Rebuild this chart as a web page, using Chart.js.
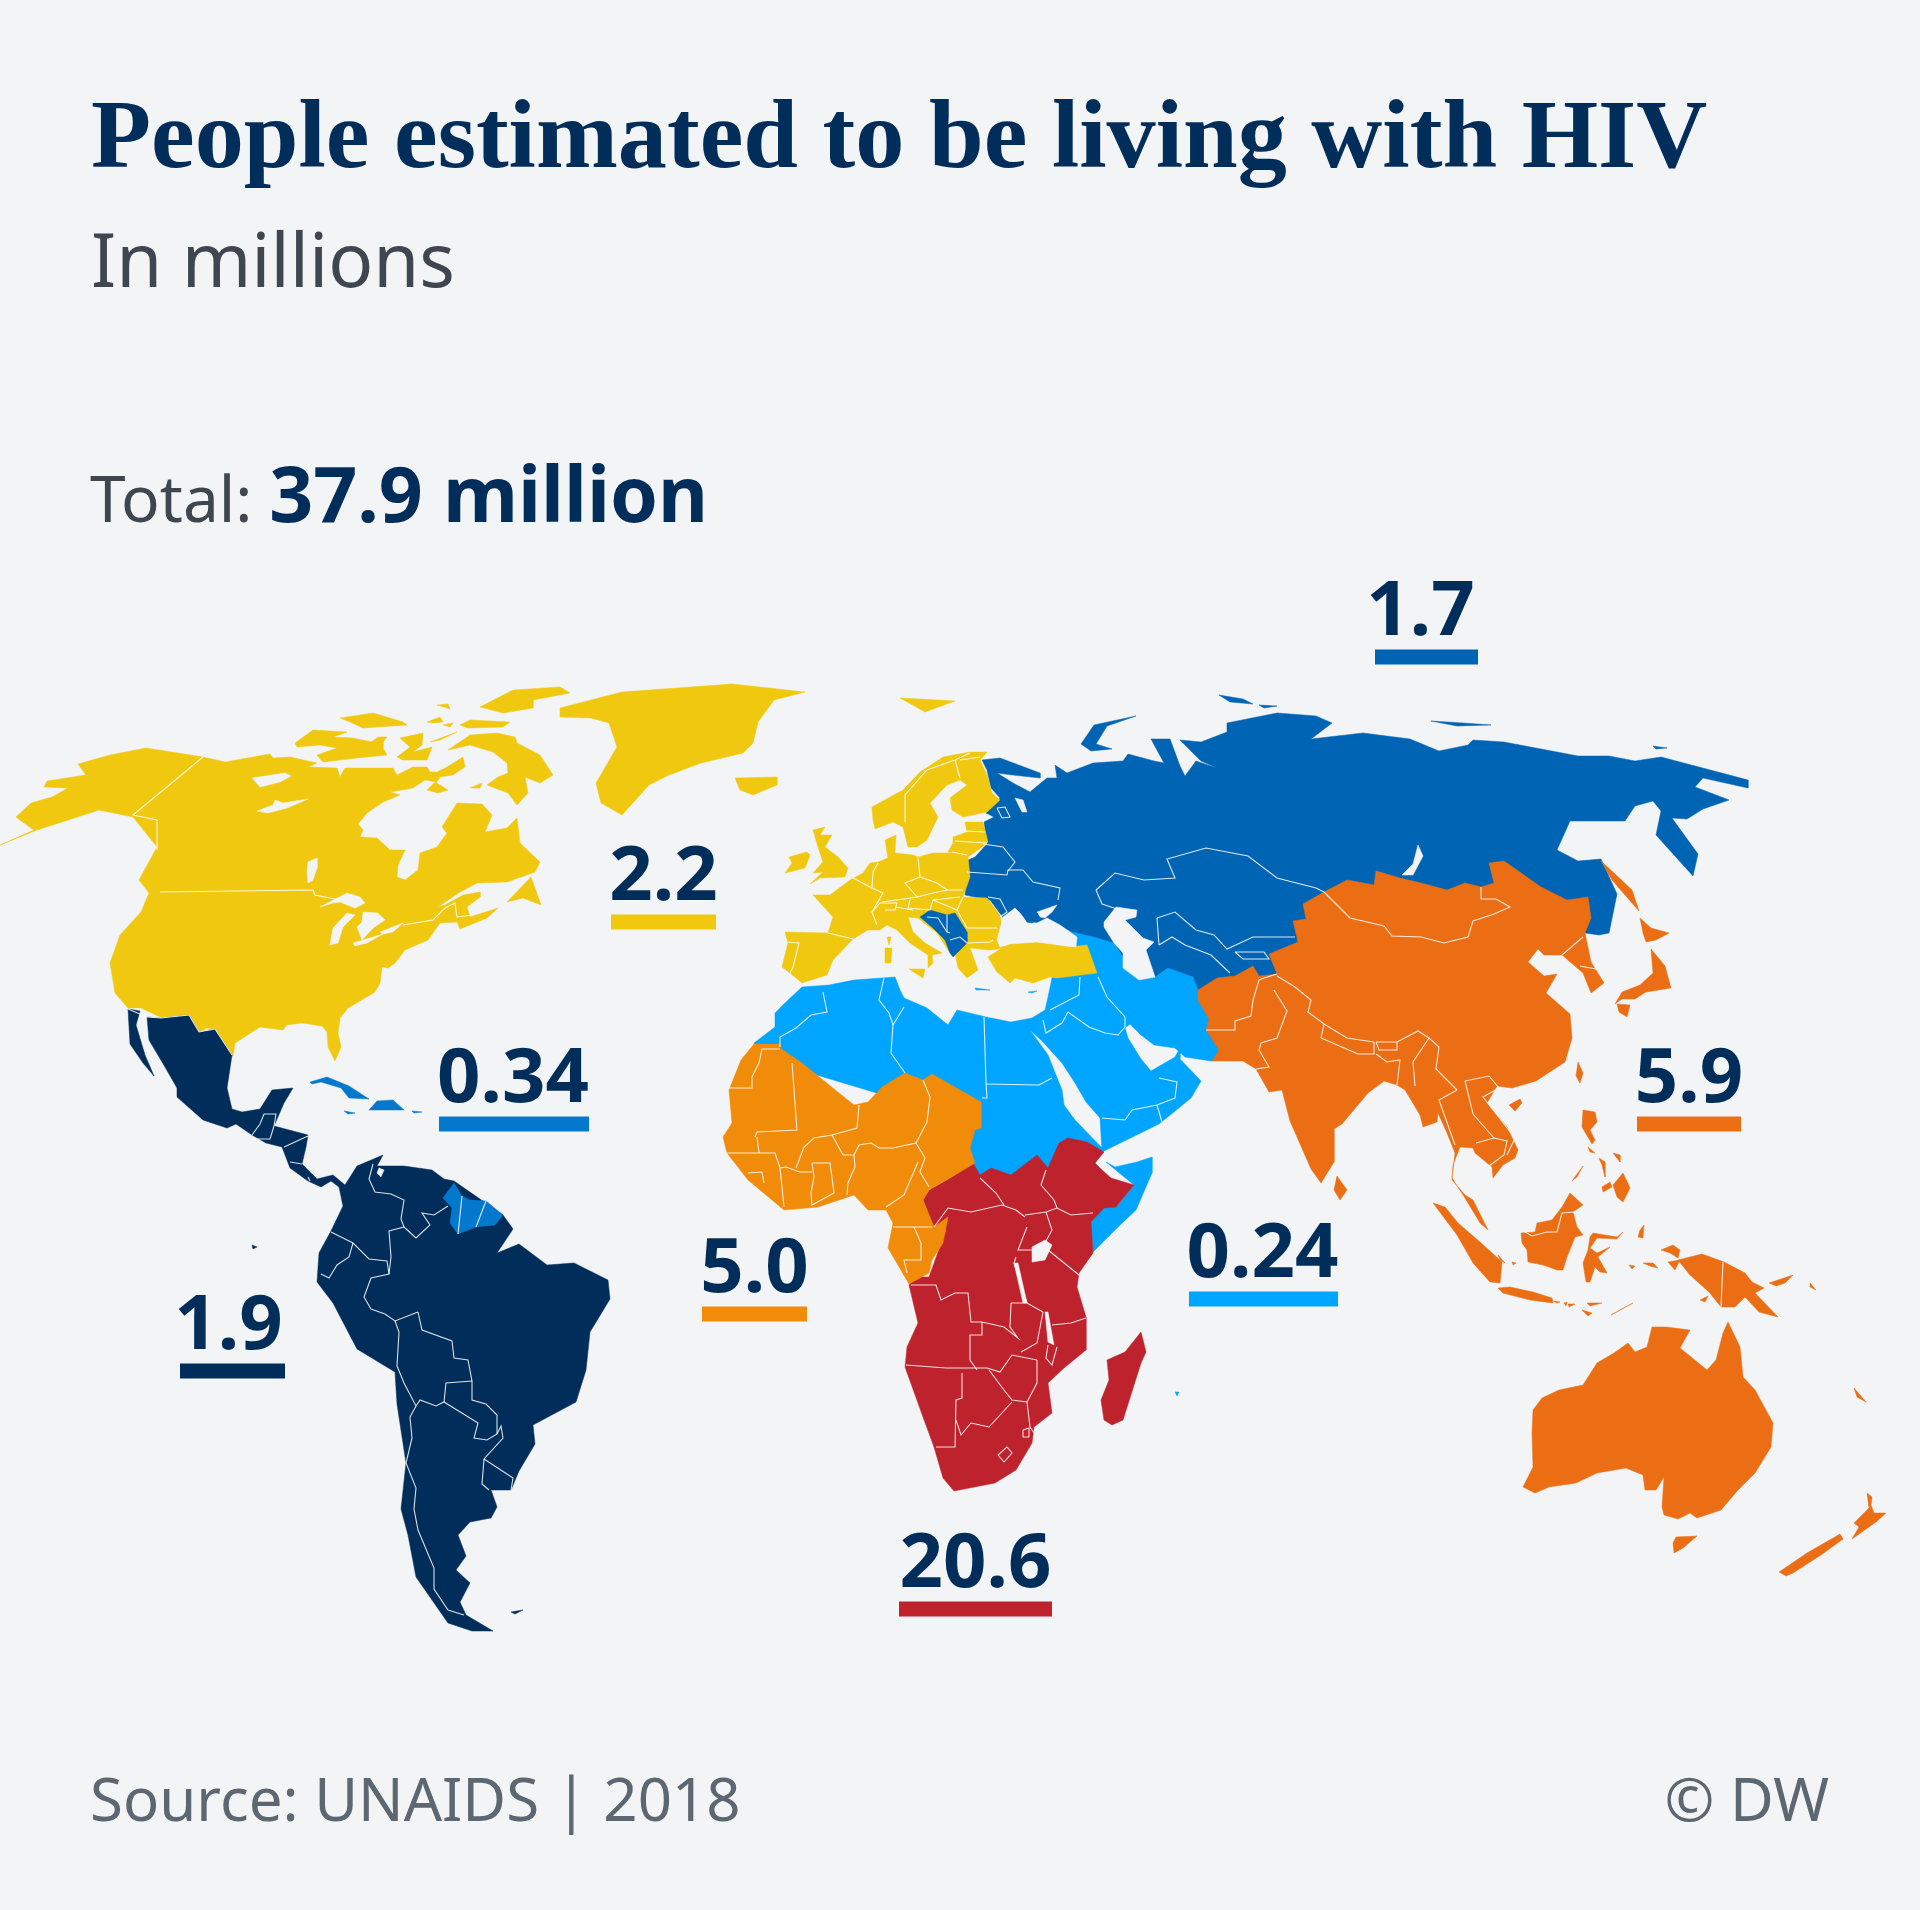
<!DOCTYPE html>
<html>
<head>
<meta charset="utf-8">
<title>People estimated to be living with HIV</title>
<script src="https://cdn.jsdelivr.net/npm/chart.js@4"></script>
<style>
    html, body { margin: 0; padding: 0; background: #f2f4f6; }
    #page { position: relative; width: 1920px; height: 1910px; overflow: hidden; }
    #map { position: absolute; left: 0; top: 0; }
    .txt { position: absolute; white-space: nowrap; font-family: "Noto Sans", sans-serif; line-height: 1; }
    #title { left: 91px; top: 85px; font: bold 98.3px/1 "Liberation Serif", serif; color: #002d5a; }
    #sub { left: 91px; top: 221px; font-size: 74.5px; color: #3f4650; }
    #total { left: 90px; top: 454px; font-size: 64px; color: #3f4650; }
    #total b { font-size: 77px; color: #002d5a; }
    #source { left: 90px; top: 1768px; font-size: 60px; color: #5c6771; }
    #credit { right: 91px; top: 1768px; font-size: 60px; color: #5c6771; }
</style>
</head>
<body>
<div id="page">
    <canvas id="map" width="1920" height="1910"></canvas>
    <div class="txt" id="title">People estimated to be living with HIV</div>
    <div class="txt" id="sub">In millions</div>
    <div class="txt" id="total">Total: <b>37.9 million</b></div>
    <div class="txt" id="source">Source: UNAIDS | 2018</div>
    <div class="txt" id="credit">© DW</div>
</div>
<script>
// Region totals, in millions
const valueLabels = ['1.7', '2.2', '0.34', '5.9', '1.9', '5.0', '0.24', '20.6'];
const valueColors = ['#0064b4', '#f0c80f', '#0478cc', '#eb6e14', '#002d5a', '#f08c0a', '#00a5ff', '#be232d'];
// Where each value sits on the map, [left, right, underline y, text shift]
const valueAnchors = [[1375, 1478, 657, -6], [611, 716, 922, 0], [439, 589, 1124, -1], [1637, 1741, 1124, 0],
    [180, 285, 1371, -4], [702, 807, 1314, 0], [1189, 1338, 1299, -1], [899, 1052, 1609, 0]];

// Outlines, map units, x,y pairs
const northAmerica = [0,845,16,838,34,830,24,823,16,817,31,803,52,797,68,788,44,787,47,781,86,775,78,764,110,755,146,748,178,753,203,757,225,762,270,754,273,758,290,757,317,763,308,767,337,768,340,777,345,768,393,768,397,775,413,767,427,767,430,772,437,772,447,767,463,757,465,767,453,775,440,777,437,782,425,780,413,788,390,792,400,795,383,802,367,813,358,824,363,830,360,837,377,838,390,850,405,850,398,865,397,877,405,880,418,870,420,853,437,847,447,833,442,827,457,803,482,804,492,815,485,832,507,828,517,818,520,843,540,862,535,872,507,882,477,883,460,892,438,907,445,905,463,895,480,892,480,897,467,907,470,917,498,908,487,918,460,929,457,922,440,923,428,940,405,950,395,963,388,968,382,967,380,983,375,992,348,1008,340,1018,338,1033,341,1047,335,1061,328,1047,327,1032,322,1026,302,1023,287,1025,283,1030,260,1027,235,1043,233,1056,222,1048,217,1030,207,1028,199,1032,188,1015,178,1018,160,1017,141,1008,128,1008,115,993,110,963,120,935,141,912,149,893,139,880,157,847,141,827,133,817,99,810,68,820,37,830];
const victoriaIsland = [295,743,313,730,347,732,333,737,352,738,373,742,383,737,383,748,387,755,357,758,323,762,317,755,337,748,320,745,297,747];
const baffinIsland = [448,750,470,735,497,733,515,737,517,743,540,755,553,775,540,783,525,777,528,793,517,805,508,793,487,785,498,777,508,773,507,763,493,752,470,745];
const somerset = [400,738,423,733,422,745,413,752,432,747,427,760,403,760,397,757,410,747];
const southampton = [427,790,435,782,448,790,438,793];
const coats = [470,788,482,783,480,788];
const ellesmere = [513,690,560,687,570,693,533,700,533,708,503,713,480,707];
const devon = [460,725,470,720,510,722,503,727,468,728];
const melville = [340,718,373,713,403,722,407,725,363,728,350,722];
const bathurst = [427,722,440,717,443,722,433,723];
const axelHeiberg = [437,705,448,704,450,709];
const cornwallis = [443,725,453,723,450,727];
const kingWilliam = [378,737,387,737,378,748,370,743];
const bylot = [430,742,457,732,440,740];
const greenland = [560,708,622,692,732,684,805,692,774,700,758,722,753,743,743,753,701,763,669,775,649,785,622,815,601,803,596,783,617,747,609,723,591,718,560,717];
const newfoundland = [507,902,531,877,541,905,523,898];
const iceland = [735,778,777,777,777,785,753,795,740,790];
const svalbard = [900,698,955,701,925,712];
const scandinavia = [872,807,903,790,920,772,943,757,970,752,987,752,980,760,987,775,992,793,1000,800,987,812,963,817,952,810,950,798,967,785,960,780,947,785,930,803,938,817,927,840,917,847,908,847,903,827,893,822,875,829,873,820];
const europe = [782,967,788,943,785,932,828,933,833,917,813,895,830,895,850,880,863,873,870,863,878,862,888,858,885,840,896,835,895,853,913,855,918,857,933,853,957,853,948,852,953,843,953,837,967,832,965,822,983,822,988,842,982,847,968,857,970,877,963,897,987,898,1000,915,1002,927,997,940,1007,948,990,950,970,948,978,970,967,978,958,968,955,953,950,953,937,933,918,918,908,917,913,932,925,943,942,953,932,955,933,963,928,968,928,955,910,943,897,930,887,925,880,930,868,930,853,939,833,960,827,975,802,983,790,973];
const britain = [813,830,825,827,820,835,832,835,825,847,838,857,848,868,845,877,820,878,810,884,823,872,813,873,823,862,818,847];
const ireland = [789,857,807,852,810,855,805,868,785,873,792,863];
const sicily = [909,969,925,969,923,978,915,973];
const sardinia = [885,948,892,948,891,963,885,963];
const corsica = [887,937,891,937,889,945];
const crete = [975,988,990,990,976,990];
const cyprus = [1028,992,1037,991,1032,993];
const turkey = [988,957,1010,943,1037,942,1070,947,1087,945,1097,973,1057,978,1050,977,1033,983,1015,978,1010,983,997,972];
const balkans = [920,917,930,910,947,915,955,913,967,932,967,943,953,957,950,953,945,940,933,928];
const russia = [982,760,1000,758,1040,773,1040,778,1013,775,997,773,1013,783,1030,792,1047,778,1057,778,1055,765,1067,773,1093,763,1123,761,1128,754,1154,761,1164,763,1151,739,1170,739,1180,766,1185,776,1196,761,1217,768,1201,761,1180,740,1201,742,1227,732,1227,723,1277,713,1316,716,1332,723,1311,739,1363,733,1410,739,1439,751,1468,745,1473,740,1504,742,1541,749,1578,756,1609,756,1635,761,1661,757,1714,771,1748,780,1748,788,1703,778,1695,787,1729,800,1703,809,1687,819,1672,818,1682,832,1698,854,1693,876,1656,835,1661,811,1653,801,1635,806,1625,821,1570,821,1557,850,1578,861,1601,859,1617,894,1609,933,1599,935,1585,933,1585,921,1500,900,1350,900,1310,960,1270,1000,1200,1000,1150,1000,1100,985,1100,960,1090,945,1068,930,1040,925,1005,920,990,900,965,895,968,860,975,857,987,844,984,822,994,817,986,813,1000,798,991,788,987,770];
const novayaZemlya = [1081,744,1094,725,1136,716,1107,726,1096,744,1112,749,1091,751];
const severnaya = [1219,695,1243,699,1253,704,1230,702];
const severnayaEast = [1259,705,1277,706,1264,708];
const newSiberian = [1431,721,1463,723,1491,725,1457,726];
const wrangel = [1653,746,1667,748,1656,749];
const crimea = [1023,915,1037,913,1040,918,1032,923,1027,922];
const menaRegion = [754,1043,775,1027,775,1013,786,1002,802,987,829,985,854,980,882,978,895,977,900,990,904,998,927,1008,948,1025,957,1010,986,1017,1011,1022,1032,1018,1045,1010,1048,997,1052,978,1060,965,1075,945,1068,931,1093,937,1114,943,1125,960,1140,975,1155,977,1168,968,1193,977,1198,990,1210,1000,1225,1040,1220,1060,1211,1061,1185,1057,1175,1048,1154,1045,1141,1035,1130,1024,1125,1028,1128,1038,1141,1059,1151,1071,1175,1057,1180,1048,1180,1059,1201,1081,1191,1098,1159,1124,1102,1152,1100,1118,1086,1102,1075,1083,1062,1063,1043,1042,1030,1030,1048,1055,1062,1090,1064,1105,1075,1120,1104,1150,1090,1170,1000,1190,975,1180,950,1120,900,1100,800,1070,780,1060,760,1060];
const somalia = [1106,1162,1115,1167,1137,1162,1152,1157,1152,1173,1136,1210,1118,1227,1093,1252,1090,1223,1104,1207,1118,1205,1134,1185];
const mauritius = [1175,1392,1179,1392,1177,1396];
const subSahara = [923,1200,929,1190,950,1178,973,1163,980,1175,991,1168,1011,1175,1037,1155,1048,1168,1059,1143,1068,1138,1087,1142,1104,1152,1095,1163,1102,1170,1111,1178,1134,1185,1116,1207,1104,1208,1091,1222,1093,1253,1079,1273,1077,1287,1080,1297,1086,1317,1086,1350,1064,1368,1048,1383,1052,1413,1034,1427,1032,1443,1016,1470,995,1483,954,1491,943,1478,934,1447,923,1417,905,1367,907,1347,918,1323,909,1285,914,1277,929,1277,946,1230,934,1228];
const madagascar = [1141,1332,1146,1352,1141,1363,1123,1420,1112,1425,1104,1420,1101,1400,1109,1380,1107,1360,1125,1352];
const westAfrica = [754,1044,780,1044,780,1048,802,1063,839,1093,854,1105,868,1102,882,1087,905,1073,923,1080,932,1074,981,1102,981,1128,975,1130,970,1148,975,1163,950,1178,929,1190,923,1200,934,1227,948,1217,943,1243,932,1260,929,1273,909,1284,888,1248,893,1223,886,1210,868,1210,854,1195,818,1207,784,1210,748,1180,727,1153,723,1137,732,1123,729,1090,741,1060];
const mexicoSouthAmerica = [147,1017,161,1018,189,1015,199,1032,215,1029,232,1055,227,1088,232,1109,242,1112,260,1109,272,1090,293,1088,284,1103,274,1126,308,1135,306,1147,302,1164,317,1179,333,1175,345,1185,357,1166,383,1155,377,1166,404,1166,432,1170,444,1179,454,1181,503,1215,513,1229,497,1253,519,1244,547,1265,574,1263,608,1280,610,1299,590,1332,586,1370,576,1402,533,1425,535,1444,519,1471,511,1490,491,1490,497,1507,491,1518,470,1522,458,1535,466,1556,456,1570,470,1583,460,1602,466,1615,493,1631,472,1631,448,1623,416,1577,408,1535,401,1509,406,1463,397,1404,395,1372,357,1349,333,1303,317,1282,319,1253,331,1231,343,1206,339,1187,331,1181,321,1187,308,1181,290,1168,282,1147,266,1143,252,1135,236,1124,227,1128,203,1120,177,1097,177,1088,165,1067,149,1040];
const baja = [128,1009,140,1011,136,1025,145,1055,154,1076,143,1063,130,1044];
const falklands = [511,1612,523,1610,515,1614];
const galapagos = [252,1245,257,1247,253,1249];
const guianas = [443,1198,454,1183,462,1196,470,1200,486,1201,503,1215,495,1225,476,1227,458,1234,450,1223,452,1208];
const cuba = [310,1082,327,1077,349,1086,369,1099,349,1098,341,1088,321,1082,312,1084];
const hispaniola = [377,1101,393,1100,404,1110,387,1110,369,1110];
const jamaica = [344,1111,355,1113,348,1114];
const puertoRico = [412,1111,422,1112,414,1113];
const asia = [1198,990,1217,978,1235,976,1253,966,1259,976,1277,974,1269,954,1298,942,1293,921,1306,919,1303,904,1324,892,1347,880,1374,885,1376,871,1400,878,1421,883,1447,890,1465,883,1481,887,1494,883,1489,863,1504,861,1541,887,1567,900,1588,897,1591,918,1585,933,1591,962,1604,983,1591,993,1583,973,1562,955,1544,955,1538,949,1528,962,1544,976,1557,974,1546,993,1570,1014,1572,1038,1565,1062,1536,1081,1512,1088,1497,1086,1487,1103,1507,1127,1518,1150,1515,1158,1503,1165,1493,1178,1492,1167,1475,1153,1473,1148,1460,1147,1453,1165,1452,1180,1465,1195,1473,1200,1488,1230,1480,1223,1465,1198,1452,1178,1455,1153,1447,1133,1438,1113,1437,1122,1423,1127,1420,1115,1405,1090,1397,1085,1384,1081,1368,1093,1342,1124,1334,1129,1334,1162,1321,1183,1311,1169,1290,1121,1282,1090,1269,1092,1256,1069,1243,1061,1212,1061,1219,1050,1206,1030,1209,1019,1198,1000];
const sakhalin = [1601,861,1614,873,1632,890,1639,911,1625,895,1612,880];
const honshu = [1651,949,1665,966,1671,988,1646,992,1635,999,1622,999,1615,1004,1622,992,1640,985,1653,973];
const hokkaido = [1640,918,1651,928,1669,933,1656,940,1646,942,1643,933];
const kyushu = [1617,1004,1630,1005,1627,1017,1619,1012];
const taiwan = [1578,1062,1583,1073,1580,1083,1576,1076];
const hainan = [1509,1105,1520,1099,1522,1103,1515,1111];
const sriLanka = [1337,1176,1347,1190,1340,1200,1334,1190];
const luzon = [1583,1110,1595,1112,1597,1122,1590,1130,1595,1140,1592,1144,1582,1127];
const mindoro = [1588,1147,1595,1153,1590,1152];
const mindanao = [1613,1185,1623,1173,1630,1188,1623,1202,1617,1197];
const zamboanga = [1602,1187,1610,1182,1612,1187,1603,1192];
const visayas = [1599,1158,1605,1162,1605,1177,1602,1165];
const samar = [1613,1153,1620,1155,1620,1162];
const palawan = [1572,1181,1583,1166,1577,1177];
const sumatra = [1433,1203,1445,1207,1458,1223,1480,1242,1502,1262,1500,1283,1490,1282,1473,1263,1457,1235];
const bangka = [1498,1255,1505,1263,1500,1260];
const belitung = [1512,1262,1516,1263,1513,1265];
const java = [1498,1288,1510,1287,1533,1292,1552,1298,1553,1303,1530,1300,1503,1293];
const borneo = [1521,1233,1535,1232,1537,1223,1552,1220,1562,1207,1570,1193,1583,1205,1573,1212,1577,1227,1583,1235,1575,1237,1567,1257,1563,1270,1557,1270,1543,1265,1528,1262,1527,1250,1522,1243];
const sulawesi = [1590,1237,1593,1233,1617,1237,1623,1232,1617,1239,1597,1238,1590,1248,1597,1253,1610,1247,1598,1257,1607,1273,1600,1272,1595,1267,1590,1282,1586,1282,1583,1263,1588,1250];
const birdsHead = [1661,1250,1673,1245,1680,1250,1678,1258,1670,1253];
const misool = [1668,1262,1680,1260,1675,1270];
const newGuinea = [1678,1260,1702,1254,1724,1262,1745,1273,1752,1282,1764,1288,1755,1293,1778,1317,1759,1312,1745,1297,1735,1307,1721,1307,1709,1292,1690,1275];
const dolak = [1700,1300,1708,1296,1705,1302];
const bali = [1553,1301,1560,1302,1557,1303];
const lombok = [1564,1303,1567,1302,1566,1306];
const sumbawa = [1568,1304,1575,1304,1569,1307];
const flores = [1587,1303,1602,1303,1590,1306];
const sumba = [1582,1310,1592,1313,1588,1316];
const timor = [1611,1315,1633,1303,1620,1310];
const halmahera = [1640,1230,1644,1225,1643,1238,1638,1237];
const ceram = [1643,1263,1653,1263,1658,1268,1650,1266];
const buru = [1629,1265,1635,1266,1632,1269];
const newBritain = [1769,1283,1793,1275,1785,1283,1776,1286];
const solomons = [1810,1283,1816,1290,1810,1287];
const newCaledonia = [1854,1388,1866,1402,1857,1397];
const australia = [1728,1322,1740,1347,1743,1377,1755,1390,1773,1423,1771,1447,1755,1473,1738,1490,1721,1510,1697,1518,1690,1513,1678,1519,1664,1515,1662,1507,1664,1477,1656,1490,1645,1490,1643,1475,1626,1468,1597,1473,1576,1483,1549,1487,1535,1493,1523,1487,1533,1467,1532,1433,1533,1410,1542,1398,1559,1390,1583,1385,1597,1363,1614,1353,1628,1343,1635,1352,1647,1347,1652,1327,1666,1327,1690,1330,1680,1348,1707,1370,1716,1360,1723,1333];
const tasmania = [1676,1537,1697,1536,1683,1548,1674,1553,1673,1543];
const newZealandSouth = [1779,1572,1807,1553,1840,1534,1843,1539,1821,1555,1793,1573,1786,1576];
const newZealandNorth = [1867,1493,1872,1497,1871,1505,1874,1513,1886,1513,1876,1522,1852,1539,1859,1527,1854,1523,1869,1508];

// Inland seas and lakes, painted over the land
const waters = [
    [1104,922,1116,907,1137,910,1136,917,1125,920,1143,938,1154,942,1146,950,1155,977,1139,980,1123,968,1123,953,1114,943,1104,927],
    [997,940,1003,917,1015,908,1020,913,1027,922,1037,923,1047,918,1060,925,1077,937,1076,947,1037,942,1010,944,1000,947],
    [1037,912,1057,905,1052,912,1045,918,1040,917],
    [1015,798,1023,800,1027,812,1022,812],
    [308,862,317,858,317,868,313,880,308,883,307,872],
    [252,778,285,773,291,776,280,782,260,787],
    [257,811,273,805,275,800,283,803,308,799,287,808,268,813],
    [320,907,347,893,360,897,365,903,355,908,340,902,333,903],
    [347,913,355,915,343,927,338,943,330,945,333,928],
    [363,912,378,913,385,920,373,928,362,940,357,927,362,922],
    [353,943,383,934,367,943,355,946],
    [380,932,403,923,393,932,383,934],
    [486,769,498,765,495,771],
    [1418,845,1423,856,1413,875,1402,875,1413,864],
    [379,1168,384,1170,381,1177,377,1173],
    [1032,1247,1045,1240,1052,1245,1045,1260,1032,1262],
    [1014,1263,1018,1263,1027,1303,1023,1303],
    [1045,1312,1048,1312,1054,1345,1048,1342]
];

// Country borders, thin white lines
const borders = [
    [160,892,313,890,315,895,340,900], [403,925,433,920,445,908,455,903,457,917,473,915], [203,757,133,815,157,820,157,850],
    [128,1009,147,1017,161,1018,189,1015,199,1032,215,1029,232,1055],
    [252,1135,260,1124,264,1114,276,1114,274,1126], [274,1126,270,1139,254,1139], [284,1147,308,1136], [290,1162,302,1164], [308,1177,310,1181],
    [373,1164,369,1179,375,1192,391,1194,404,1200,401,1219,404,1227], [404,1227,416,1238,430,1225,422,1213,434,1215,448,1206],
    [404,1227,389,1231,391,1257,389,1274,371,1278,364,1297,371,1309,385,1314,395,1321,418,1312],
    [331,1232,353,1243,369,1259,387,1261,389,1274], [353,1243,349,1257,337,1265,329,1278,321,1274],
    [418,1312,422,1330,452,1341,454,1358,468,1360,472,1381,472,1400,486,1404,497,1415,497,1434,487,1440,474,1438,478,1423,444,1402,436,1406,420,1400,416,1406,404,1383,397,1366,399,1332,395,1321],
    [444,1402,446,1383,472,1381], [416,1406,410,1417,412,1438,406,1463,416,1488,414,1509,418,1530,434,1568,434,1589,448,1610,464,1615],
    [497,1434,501,1426,503,1438,484,1459,482,1484,489,1490], [484,1459,513,1478,511,1490],
    [462,1196,458,1234], [486,1201,476,1227],
    [788,942,799,943,793,967,790,973], [828,933,853,939], [853,878,872,888,883,893,872,912,877,925], [872,888,873,872,878,863],
    [918,857,920,877,905,883,917,897,882,902], [920,877,937,883,947,890,963,890], [917,897,933,893,947,890],
    [910,900,908,908,930,910,933,900,960,897], [872,912,880,903,897,903,895,910,885,910], [895,907,913,910], [933,900,957,910,963,897], [957,910,967,928], [967,928,997,928], [967,943,990,942,993,940],
    [964,831,985,832], [955,841,987,843], [952,852,967,855],
    [905,822,905,795,927,770,955,760,970,753], [955,760,960,778], [960,760,980,757],
    [927,917,938,918,947,932,950,933], [947,915,947,932], [950,940,960,937,967,943],
    [967,872,1007,875,1008,870,1023,870,1033,882,1060,888,1058,900], [983,844,1003,847,1015,862,1008,871], [988,897,1000,899,1007,912,1000,917],
    [997,808,1005,807,1010,817,1002,818,997,808],
    [1096,890,1115,873,1144,880,1175,878,1167,859,1206,848,1248,856,1277,878,1316,888,1324,892], [1096,890,1102,904,1117,909],
    [1157,918,1159,945], [1157,918,1175,912,1196,930,1214,935,1227,949,1253,937,1295,937], [1159,945,1172,937,1185,945,1211,955,1230,973],
    [1235,952,1264,952,1269,959,1243,959,1235,952],
    [823,992,827,1012,811,1015,796,1028,780,1037,780,1047], [884,978,879,1000,889,1013,893,1025], [904,1007,893,1025], [893,1025,891,1053,905,1073],
    [984,1017,986,1083,987,1098,982,1098], [986,1084,1039,1085,1052,1078],
    [1043,1020,1046,1033,1062,1023,1068,1012,1089,1027,1105,1033,1118,1035,1125,1027], [1080,977,1079,995,1050,1010], [1098,977,1107,997,1125,1017,1125,1027],
    [1102,1118,1125,1120,1132,1110,1157,1105,1175,1098,1177,1082,1159,1078], [1157,1105,1162,1122],
    [792,1063,797,1130,757,1132,755,1137], [729,1088,752,1088,752,1077,759,1063,762,1049,780,1049], [859,1105,857,1128,832,1135,814,1138,804,1147,796,1168],
    [923,1080,930,1097,927,1122,916,1143,925,1158,920,1172,929,1187], [832,1135,843,1155,854,1155,859,1145,871,1143,879,1148,893,1148,916,1143],
    [918,1162,904,1195,886,1207], [854,1155,855,1167,848,1183,847,1195], [812,1163,830,1163,834,1193,812,1205,811,1193,814,1177,812,1163],
    [780,1168,786,1167,800,1172,812,1172], [780,1168,784,1207], [727,1153,759,1153,775,1153,780,1168], [757,1137,759,1153], [748,1173,762,1172,764,1183],
    [893,1227,932,1227], [914,1227,921,1243,921,1260,904,1260,907,1273],
    [934,1227,948,1208,971,1212,1002,1205,1016,1210,1025,1217], [980,1178,996,1193,1004,1205], [1046,1170,1041,1185,1054,1200,1057,1208],
    [1025,1215,1046,1212,1057,1208,1071,1215,1093,1213], [1027,1227,1018,1250,1032,1250], [1046,1212,1052,1230,1045,1243],
    [1016,1257,1014,1263,1027,1303], [1048,1250,1079,1275], [1052,1325,1071,1323,1086,1318], [1011,1303,1027,1303,1043,1312],
    [1011,1303,1010,1327,1018,1338,1004,1327,982,1322,971,1322,968,1293,955,1293,941,1300,936,1285,911,1285],
    [982,1322,982,1335,970,1335,970,1360,977,1370], [906,1365,946,1368,987,1368], [987,1368,1000,1372,1012,1355,1037,1360], [1037,1360,1037,1383,1027,1402],
    [989,1370,1004,1390,1012,1400,1027,1402], [962,1373,962,1398,956,1400,955,1447,936,1447], [956,1420,961,1435,971,1423,989,1427,1012,1402],
    [1027,1402,1030,1427,1034,1433], [998,1455,1007,1447,1012,1453,1004,1462,998,1455], [1023,1430,1029,1428,1029,1437,1023,1437,1023,1430],
    [1021,1352,1037,1343,1043,1312], [1048,1345,1046,1358,1052,1365,1057,1347],
    [1324,892,1350,918,1384,926,1392,936,1421,937,1444,943,1468,937,1473,921,1494,914,1510,907,1496,899,1481,899,1481,887],
    [1277,974,1264,978,1259,980,1253,1000,1251,1016,1235,1021,1235,1030,1206,1030], [1274,990,1287,1011,1277,1038,1261,1043,1259,1050,1269,1067,1256,1069],
    [1277,976,1295,987,1311,1000,1308,1012,1324,1024,1347,1038,1374,1042], [1324,1024,1321,1038,1358,1054,1374,1054,1374,1042],
    [1376,1042,1397,1042,1397,1050,1379,1050,1376,1042], [1397,1042,1418,1031,1429,1038,1439,1047,1436,1069,1457,1090],
    [1376,1054,1387,1062,1400,1060,1397,1085], [1429,1038,1413,1062,1415,1086], [1465,1081,1489,1076,1499,1088,1483,1097,1504,1124,1515,1138,1507,1155],
    [1457,1090,1439,1100,1455,1145], [1465,1081,1473,1114,1494,1138], [1476,1143,1494,1138,1507,1141,1504,1155,1489,1166], [1580,966,1596,969], [1562,955,1583,937],
    [1723,1262,1721,1307], [1525,1232,1532,1236,1547,1232,1557,1232,1562,1213,1575,1212]
];

const colors = { north: '#f0c80f', east: '#0064b4', mena: '#00a5ff', sub: '#be232d', west: '#f08c0a', asia: '#eb6e14', latin: '#002d5a', carib: '#0478cc', water: '#f2f4f6' };

// Painted bottom to top, later entries cover the shared edge of earlier ones
const layers = [
    [russia, colors.east], [novayaZemlya, colors.east], [severnaya, colors.east], [severnayaEast, colors.east], [newSiberian, colors.east], [wrangel, colors.east],
    [menaRegion, colors.mena], [somalia, colors.mena], [crete, colors.mena], [cyprus, colors.mena], [mauritius, colors.mena],
    [northAmerica, colors.north], [victoriaIsland, colors.north], [baffinIsland, colors.north], [somerset, colors.north], [southampton, colors.north], [coats, colors.north],
    [ellesmere, colors.north], [devon, colors.north], [melville, colors.north], [bathurst, colors.north], [axelHeiberg, colors.north], [cornwallis, colors.north], [kingWilliam, colors.north], [bylot, colors.north],
    [greenland, colors.north], [newfoundland, colors.north], [iceland, colors.north], [svalbard, colors.north], [scandinavia, colors.north], [europe, colors.north],
    [britain, colors.north], [ireland, colors.north], [sicily, colors.north], [sardinia, colors.north], [corsica, colors.north], [turkey, colors.north], [balkans, colors.east],
    [subSahara, colors.sub], [madagascar, colors.sub], [westAfrica, colors.west],
    [mexicoSouthAmerica, colors.latin], [baja, colors.latin], [falklands, colors.latin], [galapagos, colors.latin], [guianas, colors.carib], [cuba, colors.carib], [hispaniola, colors.carib], [jamaica, colors.carib], [puertoRico, colors.carib],
    [asia, colors.asia], [sakhalin, colors.asia], [honshu, colors.asia], [hokkaido, colors.asia], [kyushu, colors.asia], [taiwan, colors.asia], [hainan, colors.asia], [sriLanka, colors.asia],
    [luzon, colors.asia], [mindoro, colors.asia], [mindanao, colors.asia], [zamboanga, colors.asia], [visayas, colors.asia], [samar, colors.asia], [palawan, colors.asia],
    [sumatra, colors.asia], [bangka, colors.asia], [belitung, colors.asia], [java, colors.asia], [borneo, colors.asia], [sulawesi, colors.asia], [birdsHead, colors.asia], [misool, colors.asia],
    [newGuinea, colors.asia], [dolak, colors.asia], [bali, colors.asia], [lombok, colors.asia], [sumbawa, colors.asia], [flores, colors.asia], [sumba, colors.asia], [timor, colors.asia],
    [halmahera, colors.asia], [ceram, colors.asia], [buru, colors.asia], [newBritain, colors.asia], [solomons, colors.asia], [newCaledonia, colors.asia],
    [australia, colors.asia], [tasmania, colors.asia], [newZealandSouth, colors.asia], [newZealandNorth, colors.asia]
];

function toPoints(flat) {
    const pts = [];
    for (let i = 0; i < flat.length; i += 2) {
        pts.push({ x: flat[i], y: flat[i + 1] });
    }
    return pts;
}

function shape(flat, color) {
    const pts = toPoints(flat);
    pts.push(pts[0]);
    return { data: pts, showLine: true, fill: 'shape', backgroundColor: color, borderColor: color, borderWidth: 0.5, pointRadius: 0, tension: 0 };
}

function line(flat, color, width) {
    return { data: toPoints(flat), showLine: true, fill: false, borderColor: color, borderWidth: width, pointRadius: 0, tension: 0, borderCapStyle: 'butt' };
}

const datasets = [];
layers.forEach(l => datasets.push(shape(l[0], l[1])));
waters.forEach(w => datasets.push(shape(w, colors.water)));
datasets.push(shape(crimea, colors.east));
borders.forEach(b => datasets.push(line(b, 'rgba(255,255,255,0.85)', 1.1)));
valueAnchors.forEach((a, i) => datasets.push(line([a[0], a[2], a[1], a[2]], valueColors[i], 15)));
datasets.forEach((d, i) => { d.order = datasets.length - i; });

// Value numbers above their underlines
const valueText = {
    id: 'valueText',
    afterDatasetsDraw(chart) {
        const { ctx, scales } = chart;
        ctx.save();
        ctx.font = 'bold 76px "Noto Sans"';
        ctx.fillStyle = colors.latin;
        ctx.textAlign = 'center';
        ctx.textBaseline = 'alphabetic';
        valueLabels.forEach((label, i) => {
            const a = valueAnchors[i];
            ctx.fillText(label, scales.x.getPixelForValue((a[0] + a[1]) / 2 + a[3]), scales.y.getPixelForValue(a[2] - 22));
        });
        ctx.restore();
    }
};

new Chart(document.getElementById('map'), {
    type: 'scatter',
    data: { datasets: datasets },
    plugins: [valueText],
    options: {
        responsive: false,
        devicePixelRatio: 1,
        animation: false,
        layout: { padding: 0 },
        plugins: { legend: { display: false }, tooltip: { enabled: false } },
        scales: {
            x: { type: 'linear', min: 0, max: 1920, display: false },
            y: { type: 'linear', min: 0, max: 1910, reverse: true, display: false }
        }
    }
});
</script>
</body>
</html>
